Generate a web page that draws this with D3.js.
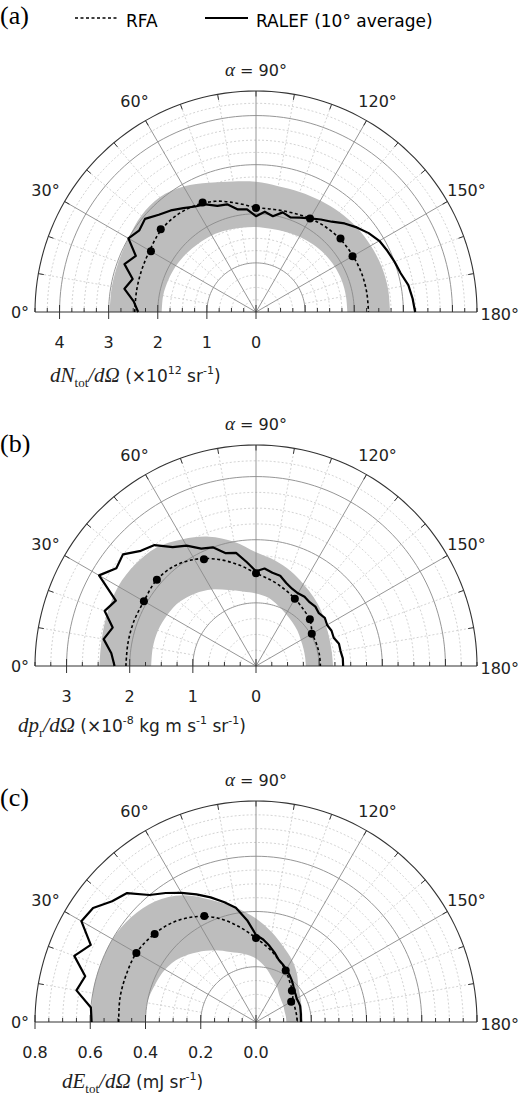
<!DOCTYPE html>
<html><head><meta charset="utf-8">
<script src="https://cdn.jsdelivr.net/npm/d3@7"></script>
<style>body{margin:0;background:#fff}svg{display:block}</style>
</head><body>
<script>
// angles for RFA curve and band (10 deg steps), RALEF (5 deg steps)
var ang10 = d3.range(0, 181, 10);
var ang5 = d3.range(0, 181, 5);
var dotAngles = [30, 41, 64, 90, 120, 139, 150];

// panel (a) dN/dOmega
var rfaA = [2.47,2.47,2.48,2.5,2.55,2.55,2.5,2.4,2.25,2.13,2.12,2.15,2.2,2.24,2.27,2.28,2.29,2.29,2.29];
var loA = [1.92,1.92,1.9,1.88,1.85,1.82,1.8,1.77,1.74,1.73,1.72,1.74,1.77,1.8,1.83,1.85,1.86,1.86,1.86];
var hiA = [2.98,2.98,2.98,3.0,3.05,3.05,2.95,2.8,2.7,2.65,2.6,2.6,2.62,2.65,2.68,2.7,2.72,2.73,2.73];
var dotsA = [2.47,2.57,2.48,2.12,2.2,2.28,2.27];
var ralefA = [2.4,2.5,2.72,2.6,2.85,2.7,3.0,2.9,2.95,2.8,2.7,2.58,2.48,2.42,2.3,2.27,2.12,2.1,1.95,2.05,1.98,2.1,2.05,2.12,2.2,2.3,2.4,2.55,2.68,2.8,2.9,2.95,3.0,3.05,3.15,3.2,3.24];
var ticksA = [0, 1, 2, 3, 4];

// panel (b) dp/dOmega
var rfaB = [2.06,2.06,2.06,2.05,2.08,2.05,1.95,1.8,1.63,1.47,1.38,1.3,1.23,1.17,1.12,1.03,1.02,1.02,1.02];
var loB = [1.66,1.66,1.65,1.62,1.58,1.5,1.4,1.28,1.2,1.15,1.1,1.02,0.95,0.9,0.86,0.82,0.8,0.79,0.79];
var hiB = [2.48,2.48,2.5,2.52,2.5,2.45,2.32,2.18,2.0,1.8,1.7,1.6,1.5,1.42,1.35,1.28,1.24,1.22,1.22];
var dotsB = [2.05,2.08,1.88,1.47,1.23,1.13,1.02];
var ralefB = [2.24,2.3,2.45,2.35,2.55,2.45,2.87,2.7,2.75,2.58,2.5,2.3,2.2,2.05,2.0,1.85,1.82,1.65,1.5,1.55,1.5,1.48,1.4,1.35,1.33,1.34,1.32,1.33,1.3,1.33,1.3,1.32,1.31,1.36,1.36,1.38,1.38];
var ticksB = [0, 1, 2, 3];

// panel (c) dE/dOmega
var rfaC = [0.497,0.5,0.5,0.5,0.488,0.47,0.44,0.4,0.35,0.304,0.27,0.24,0.215,0.19,0.172,0.155,0.15,0.149,0.149];
var loC = [0.4,0.4,0.39,0.38,0.36,0.33,0.3,0.27,0.25,0.23,0.2,0.17,0.15,0.13,0.12,0.115,0.11,0.11,0.11];
var hiC = [0.593,0.6,0.6,0.6,0.59,0.57,0.53,0.47,0.42,0.375,0.33,0.29,0.26,0.23,0.2,0.185,0.175,0.17,0.17];
var dotsC = [0.5,0.486,0.427,0.304,0.215,0.172,0.147];
var ralefC = [0.595,0.6,0.66,0.64,0.7,0.66,0.73,0.72,0.68,0.66,0.6,0.57,0.54,0.51,0.48,0.45,0.42,0.37,0.315,0.3,0.28,0.26,0.24,0.23,0.22,0.21,0.2,0.19,0.18,0.175,0.17,0.17,0.17,0.167,0.165,0.163,0.163];
var ticksC = [0, 0.2, 0.4, 0.6, 0.8];

var W = 520, H = 1096, R = 221, cx = 256;
var svg = d3.select("body").append("svg").attr("width", W).attr("height", H);
var sans = "DejaVu Sans", serif = "Liberation Serif";

// legend
var lg = svg.append("g");
lg.append("text").attr("x", 0).attr("y", 24).attr("font-family", serif).attr("font-size", 26).text("(a)");
lg.append("line").attr("x1", 75).attr("x2", 118).attr("y1", 18).attr("y2", 18).attr("stroke", "#000").attr("stroke-width", 1.5).attr("stroke-dasharray", "3,2.5");
lg.append("text").attr("x", 126).attr("y", 27).attr("font-family", sans).attr("font-size", 17).text("RFA");
lg.append("line").attr("x1", 205).attr("x2", 248).attr("y1", 18).attr("y2", 18).attr("stroke", "#000").attr("stroke-width", 2);
lg.append("text").attr("x", 256).attr("y", 27).attr("font-family", sans).attr("font-size", 17).text("RALEF (10° average)");

function panel(cy, rMax, major, minor, ticks, fmt, rfa, lo, hi, dots, ralef, tag, tagY, labelFn) {
  var r = d3.scaleLinear().domain([0, rMax]).range([0, R]);
  var g = svg.append("g");
  function pt(a, v) {
    var t = a * Math.PI / 180;
    return [cx - r(v) * Math.cos(t), cy - r(v) * Math.sin(t)];
  }
  function arc(v) {
    return d3.line()(d3.range(0, 181, 2).map(function (a) { return pt(a, v); }));
  }
  d3.range(minor, rMax - 1e-9, minor).forEach(function (v) {
    if (Math.abs(v / major - Math.round(v / major)) < 1e-6) return;
    g.append("path").attr("d", arc(v)).attr("fill", "none").attr("stroke", "#c8c8c8").attr("stroke-width", 0.8).attr("stroke-dasharray", "2,2");
  });
  d3.range(10, 180, 10).forEach(function (a) {
    if (a % 30 === 0) return;
    var p0 = pt(a, major), p1 = pt(a, rMax);
    g.append("line").attr("x1", p0[0]).attr("y1", p0[1]).attr("x2", p1[0]).attr("y2", p1[1]).attr("stroke", "#c8c8c8").attr("stroke-width", 0.8).attr("stroke-dasharray", "2,2");
  });
  // band: smooth outer edge, then smooth inner edge back
  var hiPts = ang10.map(function (a, i) { return pt(a, hi[i]); });
  var loPts = ang10.map(function (a, i) { return pt(a, lo[i]); }).reverse();
  var sm = d3.line().curve(d3.curveCatmullRom);
  var bandD = sm(hiPts) + "L" + sm(loPts).slice(1) + "Z";
  g.append("path").attr("d", bandD).attr("fill", "#bdbdbd").attr("stroke", "none");
  d3.range(major, rMax - 1e-9, major).forEach(function (v) {
    g.append("path").attr("d", arc(v)).attr("fill", "none").attr("stroke", "#8a8a8a").attr("stroke-width", 0.9);
  });
  [30, 60, 90, 120, 150].forEach(function (a) {
    var p1 = pt(a, rMax);
    g.append("line").attr("x1", cx).attr("y1", cy).attr("x2", p1[0]).attr("y2", p1[1]).attr("stroke", "#8a8a8a").attr("stroke-width", 0.9);
  });
  g.append("path").attr("d", arc(rMax)).attr("fill", "none").attr("stroke", "#333").attr("stroke-width", 1.1);
  d3.range(10, 180, 10).forEach(function (a) {
    var p0 = pt(a, rMax * 0.975), p1 = pt(a, rMax);
    g.append("line").attr("x1", p0[0]).attr("y1", p0[1]).attr("x2", p1[0]).attr("y2", p1[1]).attr("stroke", "#333").attr("stroke-width", 1);
  });
  var xs = d3.scaleLinear().domain([rMax, -rMax]).range([cx - R, cx + R]);
  g.append("line").attr("x1", cx - R).attr("x2", cx + R).attr("y1", cy).attr("y2", cy).attr("stroke", "#333").attr("stroke-width", 1.1);
  d3.range(-rMax, rMax + 1e-9, minor).forEach(function (v) {
    var isMaj = Math.abs(v / major - Math.round(v / major)) < 1e-6;
    g.append("line").attr("x1", xs(v)).attr("x2", xs(v)).attr("y1", cy).attr("y2", cy - (isMaj ? 7 : 4)).attr("stroke", "#333").attr("stroke-width", 1);
    if (isMaj && v >= 0) g.append("line").attr("x1", xs(v)).attr("x2", xs(v)).attr("y1", cy).attr("y2", cy + 7).attr("stroke", "#333");
  });
  ticks.forEach(function (v) {
    g.append("text").attr("x", xs(v)).attr("y", cy + 36).attr("text-anchor", "middle").attr("font-family", sans).attr("font-size", 16).attr("fill", "#222").text(fmt(v));
  });
  g.append("text").attr("x", 20).attr("y", cy + 6).attr("text-anchor", "middle").attr("font-family", sans).attr("font-size", 16).attr("fill", "#222").text("0°");
  g.append("text").attr("x", 519).attr("y", cy + 8).attr("text-anchor", "end").attr("font-family", sans).attr("font-size", 16).attr("fill", "#222").text("180°");
  [[30, "30°"], [60, "60°"], [120, "120°"], [150, "150°"]].forEach(function (d) {
    var p = pt(d[0], rMax * 1.1);
    g.append("text").attr("x", p[0]).attr("y", p[1] + 6).attr("text-anchor", "middle").attr("font-family", sans).attr("font-size", 16).attr("fill", "#222").text(d[1]);
  });
  var t90 = g.append("text").attr("x", cx).attr("y", cy - R - 15).attr("text-anchor", "middle").attr("font-family", sans).attr("font-size", 16).attr("fill", "#222");
  t90.append("tspan").attr("font-family", serif).attr("font-style", "italic").attr("font-size", 19).text("α");
  t90.append("tspan").text(" = 90°");
  g.append("path").attr("d", d3.line().curve(d3.curveCatmullRom)(ang10.map(function (a, i) { return pt(a, rfa[i]); })))
    .attr("fill", "none").attr("stroke", "#000").attr("stroke-width", 1.6).attr("stroke-dasharray", "3,2.5");
  g.append("path").attr("d", d3.line()(ang5.map(function (a, i) { return pt(a, ralef[i]); })))
    .attr("fill", "none").attr("stroke", "#000").attr("stroke-width", 2.2).attr("stroke-linejoin", "round");
  dotAngles.forEach(function (a, i) {
    var p = pt(a, dots[i]);
    g.append("circle").attr("cx", p[0]).attr("cy", p[1]).attr("r", 4).attr("fill", "#000");
  });
  if (tag) g.append("text").attr("x", 0).attr("y", tagY).attr("font-family", serif).attr("font-size", 26).text(tag);
  labelFn(g);
}

// rest items: [text, shift] where shift "up" = superscript, "" = normal baseline
function axisLabel(g, x, y, main, sub, rest) {
  var t = g.append("text").attr("x", x).attr("y", y).attr("fill", "#222");
  t.append("tspan").attr("font-family", serif).attr("font-style", "italic").attr("font-size", 21).text(main[0]);
  if (sub) t.append("tspan").attr("font-family", serif).attr("font-size", 13).attr("dy", 5).text(sub);
  t.append("tspan").attr("font-family", serif).attr("font-style", "italic").attr("font-size", 21).attr("dy", sub ? -5 : 0).text(main[1]);
  var prevUp = false;
  rest.forEach(function (s) {
    var up = s[1] === "up";
    var ts = t.append("tspan").attr("font-family", sans).attr("font-size", up ? 11 : 17);
    if (up && !prevUp) ts.attr("dy", -8);
    if (!up && prevUp) ts.attr("dy", 8);
    prevUp = up;
    ts.text(s[0]);
  });
}

var f0 = d3.format("d"), f1 = d3.format(".1f");
panel(312, 4.5, 1, 0.25, ticksA, f0, rfaA, loA, hiA, dotsA, ralefA, null, 0, function (g) {
  axisLabel(g, 50, 382, ["dN", "/dΩ"], "tot", [["  (×10", ""], ["12", "up"], [" sr", ""], ["-1", "up"], [")", ""]]);
});
panel(666, 3.5, 1, 0.25, ticksB, f0, rfaB, loB, hiB, dotsB, ralefB, "(b)", 452, function (g) {
  axisLabel(g, 18, 732, ["dp", "/dΩ"], "r", [["  (×10", ""], ["-8", "up"], [" kg m s", ""], ["-1", "up"], [" sr", ""], ["-1", "up"], [")", ""]]);
});
panel(1022, 0.8, 0.2, 0.05, ticksC, f1, rfaC, loC, hiC, dotsC, ralefC, "(c)", 806, function (g) {
  axisLabel(g, 62, 1088, ["dE", "/dΩ"], "tot", [["  (mJ sr", ""], ["-1", "up"], [")", ""]]);
});
</script>
</body></html>
